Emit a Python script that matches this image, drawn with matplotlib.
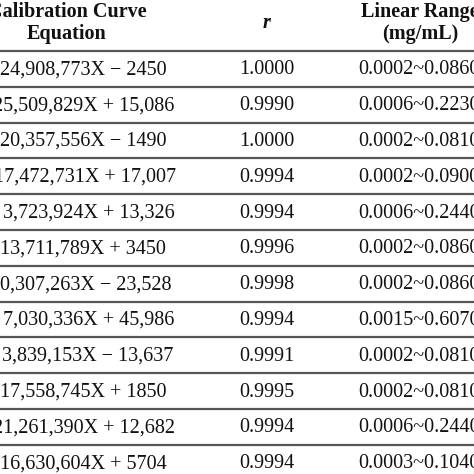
import matplotlib
matplotlib.use("Agg")
import matplotlib.pyplot as plt

equations = ["24,908,773X \u2212 2450", "25,509,829X + 15,086", "20,357,556X \u2212 1490",
             "17,472,731X + 17,007", "3,723,924X + 13,326", "13,711,789X + 3450",
             "0,307,263X \u2212 23,528", "7,030,336X + 45,986", "3,839,153X \u2212 13,637",
             "17,558,745X + 1850", "21,261,390X + 12,682", "16,630,604X + 5704"]
eq_x = [0, -7, 0, -6, 3, 0, 0, 3, 2, 0, -7, 0]
r_values = ["1.0000", "0.9990", "1.0000", "0.9994", "0.9994", "0.9996",
            "0.9998", "0.9994", "0.9991", "0.9995", "0.9994", "0.9994"]
ranges = ["0.0002~0.0860", "0.0006~0.2230", "0.0002~0.0810", "0.0002~0.0900",
          "0.0006~0.2440", "0.0002~0.0860", "0.0002~0.0860", "0.0015~0.6070",
          "0.0002~0.0810", "0.0002~0.0810", "0.0006~0.2440", "0.0003~0.1040"]

fig = plt.figure(figsize=(4.74, 4.74), dpi=100)
ax = fig.add_axes([0, 0, 1, 1])
ax.set_xlim(0, 474)
ax.set_ylim(474, 0)
ax.axis("off")

font = dict(family="Liberation Serif", fontsize=14.5, color="#111111")
top = 51
h = 35.8
ax.text(67, 12, "Calibration Curve", ha="center", va="center", fontweight="bold", **font)
ax.text(67, 34, "Equation", ha="center", va="center", fontweight="bold", **font)
ax.text(267, 23, "r", ha="center", va="center", fontweight="bold", style="italic", **font)
ax.text(361, 12, "Linear Range", ha="left", va="center", fontweight="bold", **font)
ax.text(420, 34, "(mg/mL)", ha="center", va="center", fontweight="bold", **font)

for i in range(len(equations)):
    y = top + h * i
    ax.plot([0, 474], [y, y], color="#555555", lw=1.6, solid_capstyle="butt")
    yc = y + h / 2 + 1
    ax.text(eq_x[i], yc, equations[i], ha="left", va="center", **font)
    ax.text(267, yc, r_values[i], ha="center", va="center", **font)
    ax.text(358, yc, ranges[i], ha="left", va="center", **font)

fig.savefig("out.png", dpi=100, facecolor="white")
